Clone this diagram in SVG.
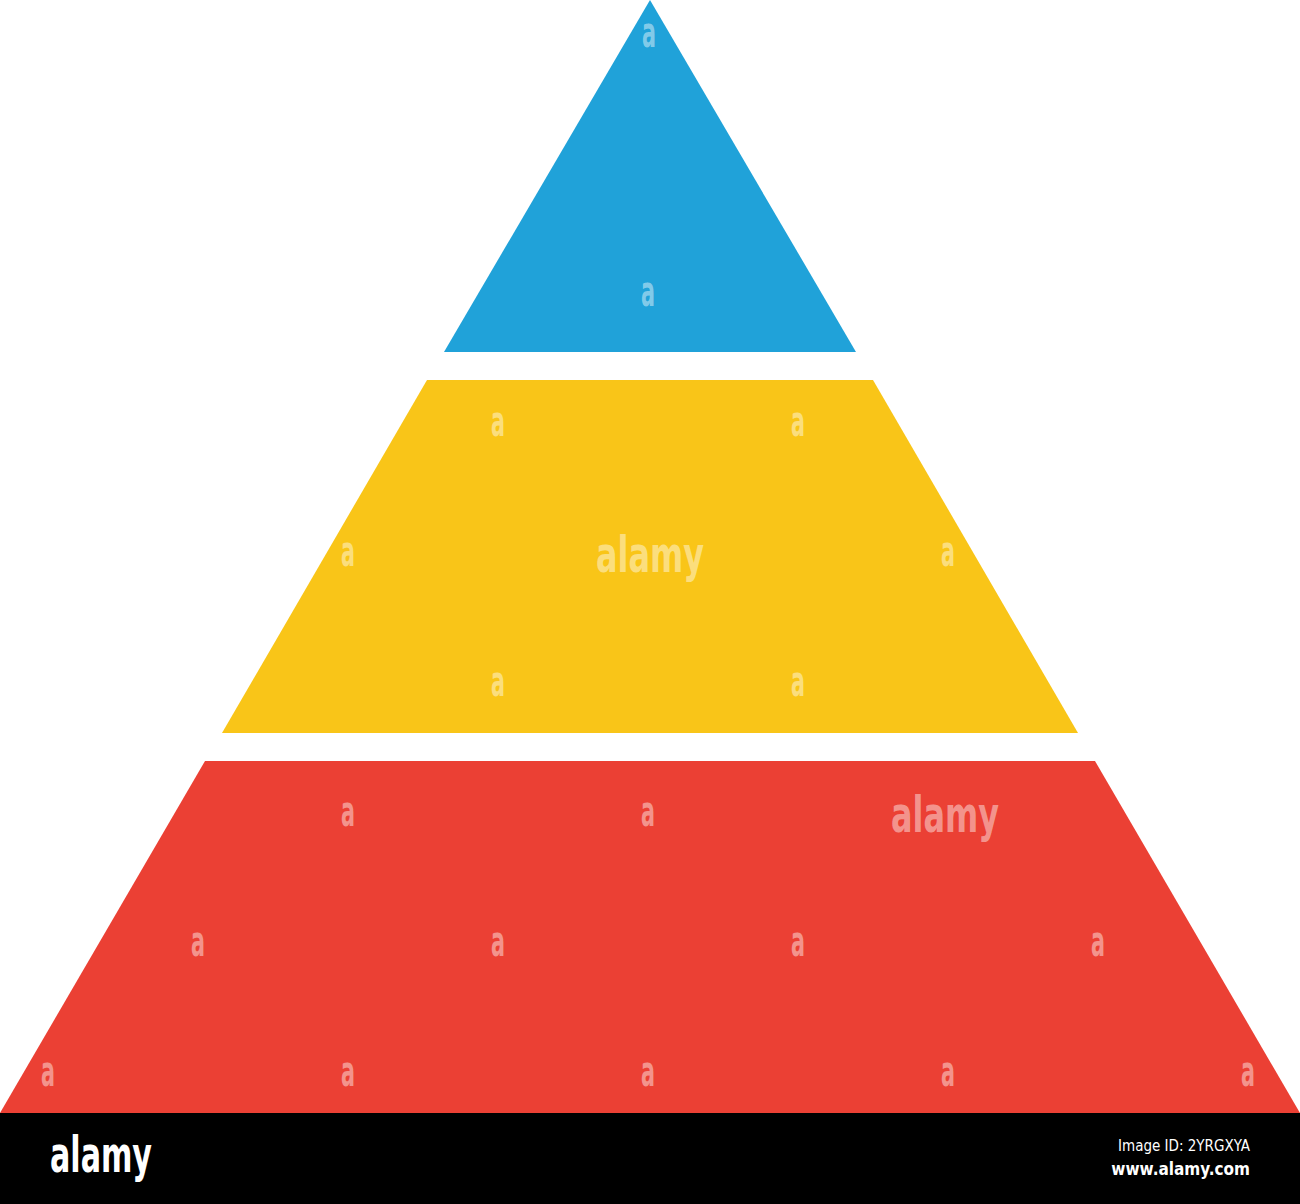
<svg xmlns="http://www.w3.org/2000/svg" width="1300" height="1204" viewBox="0 0 1300 1204">
<style>
.wm{font-family:"DejaVu Sans Condensed","DejaVu Sans",sans-serif;font-weight:bold;fill:#ffffff;fill-opacity:0.45;text-anchor:middle}
.wa{font-size:42px}
.wl{font-size:50px}
.ft{font-family:"DejaVu Sans Condensed","DejaVu Sans",sans-serif;fill:#ffffff}
</style>
<rect width="1300" height="1204" fill="#ffffff"/>
<g id="level-top"><polygon points="650,0 856,352 444,352" fill="#20A2D9"/></g>
<g id="level-middle"><polygon points="427,380 873,380 1078,733 222,733" fill="#F9C518"/></g>
<g id="level-bottom"><polygon points="205,761 1095,761 1300,1113 0,1113" fill="#EB4034"/></g>
<g id="connectors"></g>
<g id="watermark">
<text class="wm wa" x="649" y="47" textLength="14" lengthAdjust="spacingAndGlyphs">a</text>
<text class="wm wa" x="648" y="306" textLength="14" lengthAdjust="spacingAndGlyphs">a</text>
<text class="wm wa" x="498" y="436" textLength="14" lengthAdjust="spacingAndGlyphs">a</text>
<text class="wm wa" x="798" y="436" textLength="14" lengthAdjust="spacingAndGlyphs">a</text>
<text class="wm wa" x="348" y="566" textLength="14" lengthAdjust="spacingAndGlyphs">a</text>
<text class="wm wa" x="948" y="566" textLength="14" lengthAdjust="spacingAndGlyphs">a</text>
<text class="wm wl" x="650" y="572" textLength="108" lengthAdjust="spacingAndGlyphs">alamy</text>
<text class="wm wa" x="498" y="696" textLength="14" lengthAdjust="spacingAndGlyphs">a</text>
<text class="wm wa" x="798" y="696" textLength="14" lengthAdjust="spacingAndGlyphs">a</text>
<text class="wm wa" x="348" y="826" textLength="14" lengthAdjust="spacingAndGlyphs">a</text>
<text class="wm wa" x="648" y="826" textLength="14" lengthAdjust="spacingAndGlyphs">a</text>
<text class="wm wl" x="945" y="832" textLength="108" lengthAdjust="spacingAndGlyphs">alamy</text>
<text class="wm wa" x="198" y="956" textLength="14" lengthAdjust="spacingAndGlyphs">a</text>
<text class="wm wa" x="498" y="956" textLength="14" lengthAdjust="spacingAndGlyphs">a</text>
<text class="wm wa" x="798" y="956" textLength="14" lengthAdjust="spacingAndGlyphs">a</text>
<text class="wm wa" x="1098" y="956" textLength="14" lengthAdjust="spacingAndGlyphs">a</text>
<text class="wm wa" x="48" y="1086" textLength="14" lengthAdjust="spacingAndGlyphs">a</text>
<text class="wm wa" x="348" y="1086" textLength="14" lengthAdjust="spacingAndGlyphs">a</text>
<text class="wm wa" x="648" y="1086" textLength="14" lengthAdjust="spacingAndGlyphs">a</text>
<text class="wm wa" x="948" y="1086" textLength="14" lengthAdjust="spacingAndGlyphs">a</text>
<text class="wm wa" x="1248" y="1086" textLength="14" lengthAdjust="spacingAndGlyphs">a</text>
</g>
<g id="footer">
<rect x="0" y="1113" width="1300" height="91" fill="#000000"/>
<text class="ft" x="50" y="1172" font-size="50" font-weight="bold" textLength="102" lengthAdjust="spacingAndGlyphs">alamy</text>
<text class="ft" x="1250" y="1151" font-size="15" text-anchor="end">Image ID: 2YRGXYA</text>
<text class="ft" x="1250" y="1175" font-size="17" font-weight="bold" text-anchor="end">www.alamy.com</text>
</g>
</svg>
